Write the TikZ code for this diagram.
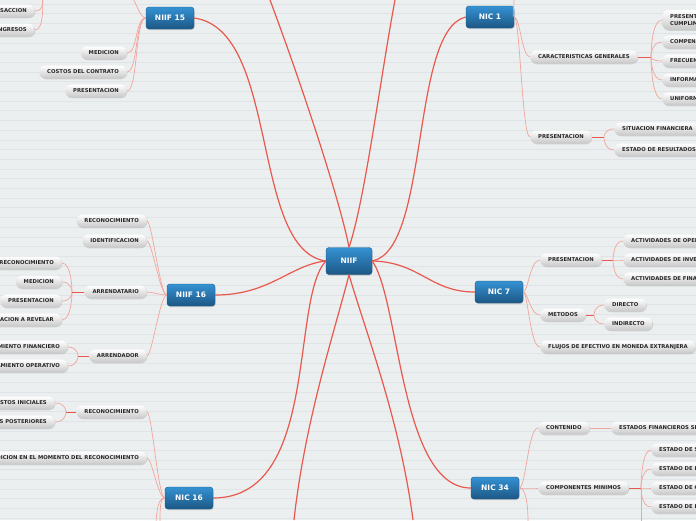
\documentclass[tikz,border=0pt]{standalone}
\usepackage{fontspec}
\setmainfont{DejaVu Sans}
\usetikzlibrary{shadows}
\definecolor{bg}{HTML}{ECEFF0}
\definecolor{rule}{HTML}{E0E4E6}
\definecolor{mainln}{HTML}{E8584C}
\definecolor{subln}{HTML}{F2A59C}
\definecolor{btop}{HTML}{3592D3}
\definecolor{bbot}{HTML}{1C5784}
\tikzset{
 pill/.style={rounded corners=6.5pt, minimum height=13pt, inner xsep=8pt, inner ysep=0pt,
   top color=white, bottom color=black!22, font=\bfseries\fontsize{5.3}{6.3}\selectfont, text=black!85,
   drop shadow={shadow xshift=0.6pt,shadow yshift=-0.8pt,opacity=0.25}},
 topic/.style={rounded corners=3pt, minimum height=22pt, minimum width=48pt, top color=btop, bottom color=bbot,
   draw=bbot, text=white, font=\bfseries\fontsize{7.5}{8}\selectfont,
   drop shadow={shadow xshift=0.6pt,shadow yshift=-1pt,opacity=0.3}},
 mline/.style={draw=mainln, line width=1.2pt},
 sline/.style={draw=subln, line width=0.7pt},
 rln/.style={color=mainln, draw=mainln, line width=1pt}
}
\begin{document}
\begin{tikzpicture}[x=1pt,y=-1pt]
\fill[bg] (0,0) rectangle (696,520);
\clip (0,0) rectangle (696,520);
\foreach \y in {4,13.7,...,520} \draw[rule, line width=0.5pt] (0,\y) -- (696,\y);
% free ends
\coordinate (t1) at (270,0); \coordinate (t2) at (395,0);
\coordinate (b1) at (294,520); \coordinate (b2) at (413,520);
\coordinate (tl) at (43,-2); \coordinate (tn1) at (514,0);
\coordinate (bn16) at (156,522); \coordinate (bn34) at (528,522);
% main
\node[topic, minimum width=46pt, minimum height=27pt] (niif) at (349,261) {NIIF};
\node[topic] (n15) at (170,18) {NIIF 15};
\node[topic] (n1) at (490,17) {NIC 1};
\node[topic] (n16f) at (191,295) {NIIF 16};
\node[topic] (n7) at (499,292) {NIC 7};
\node[topic] (n16) at (189,498) {NIC 16};
\node[topic] (n34) at (495,488) {NIC 34};
\draw[mline] (niif.north) .. controls (340,200) and (300,80) .. (t1);
\draw[mline] (niif.north) .. controls (365,200) and (380,80) .. (t2);
\draw[mline] (niif.south) .. controls (335,330) and (305,420) .. (b1);
\draw[mline] (niif.south) .. controls (365,330) and (400,420) .. (b2);
\draw[mline] (niif.west) .. controls (250,250) and (280,30) .. (n15.east);
\draw[mline] (niif.east) .. controls (430,250) and (410,30) .. (n1.west);
\draw[mline] (niif.west) .. controls (290,265) and (270,295) .. (n16f.east);
\draw[mline] (niif.east) .. controls (420,262) and (430,292) .. (n7.west);
\draw[mline] (niif.west) .. controls (290,300) and (320,498) .. (n16.east);
\draw[mline] (niif.east) .. controls (400,300) and (400,488) .. (n34.west);
% NIIF 15
\node[pill, anchor=east] (m15a) at (127,53) {MEDICION};
\node[pill, anchor=east] (m15b) at (127,72) {COSTOS DEL CONTRATO};
\node[pill, anchor=east] (m15c) at (127,91) {PRESENTACION};
\node[pill, anchor=east] (m15d) at (35,11) {TRANSACCION};
\node[pill, anchor=east] (m15e) at (35,30) {INGRESOS};
\foreach \n/\yy in {m15a/53,m15b/72,m15c/91} \draw[sline] (n15.west) .. controls (135,18) and (138,\yy) .. (\n.east);
\draw[sline] (n15.west) .. controls (140,18) and (135,0) .. (132,-3);
\draw[sline] (m15d.east) .. controls (45,11) and (42,0) .. (tl);
\draw[sline] (m15e.east) .. controls (45,30) and (42,0) .. (tl);
% NIIF 16
\node[pill, anchor=east] (a1) at (147,221) {RECONOCIMIENTO};
\node[pill, anchor=east] (a2) at (147,241) {IDENTIFICACION};
\node[pill, anchor=east] (a3) at (147,292) {ARRENDATARIO};
\node[pill, anchor=east] (a4) at (147,356) {ARRENDADOR};
\foreach \n/\yy in {a1/221,a2/241,a3/292,a4/356} \draw[sline] (n16f.west) .. controls (160,295) and (152,\yy) .. (\n.east);
\node[pill, anchor=east] (a31) at (62,263) {RECONOCIMIENTO};
\node[pill, anchor=east] (a32) at (62,282) {MEDICION};
\node[pill, anchor=east] (a33) at (62,301) {PRESENTACION};
\node[pill, anchor=east] (a34) at (62,320) {INFORMACION A REVELAR};
\foreach \n/\yy in {a31/263,a32/282,a33/301,a34/320} \draw[sline] (72,292) .. controls (72,292) and (72,\yy) .. (\n.east);
\draw[rln] (a3.west) -- (72,292);
\node[pill, anchor=east] (a41) at (68,347) {ARRENDAMIENTO FINANCIERO};
\node[pill, anchor=east] (a42) at (68,366) {ARRENDAMIENTO OPERATIVO};
\foreach \n/\yy in {a41/347,a42/366} \draw[sline] (78,356) .. controls (78,356) and (78,\yy) .. (\n.east);
\draw[rln] (a4.west) -- (78,356);
% NIC 16
\node[pill, anchor=east] (c1) at (147,412) {RECONOCIMIENTO};
\node[pill, anchor=east] (c2) at (147,458) {MEDICION EN EL MOMENTO DEL RECONOCIMIENTO};
\foreach \n/\yy in {c1/412,c2/458} \draw[sline] (n16.west) .. controls (158,498) and (152,\yy) .. (\n.east);
\draw[sline] (n16.west) .. controls (158,498) and (157,510) .. (bn16);
\draw[sline] (n16.west) .. controls (160,498) and (160,510) .. (160,522);
\node[pill, anchor=east] (c11) at (55,403) {COSTOS INICIALES};
\node[pill, anchor=east] (c12) at (55,422) {COSTOS POSTERIORES};
\foreach \n/\yy in {c11/403,c12/422} \draw[sline] (66,412) .. controls (66,412) and (66,\yy) .. (\n.east);
\draw[rln] (c1.west) -- (66,412);
% NIC 1
\draw[sline] (n1.east) .. controls (512,17) and (514,8) .. (tn1);
\node[pill, anchor=west] (d1) at (530,57) {CARACTERISTICAS GENERALES};
\node[pill, anchor=west] (d2) at (530,137) {PRESENTACION};
\foreach \n/\yy in {d1/57,d2/137} \draw[sline] (n1.east) .. controls (520,17) and (522,\yy) .. (\n.west);
\node[pill, anchor=west, align=left, minimum height=20pt] (d11) at (662,20) {PRESENTACION RAZONABLE Y\\CUMPLIMIENTO DE LAS NIIF};
\node[pill, anchor=west] (d12) at (662,42) {COMPENSACION};
\node[pill, anchor=west] (d13) at (662,61) {FRECUENCIA DE LA INFORMACION};
\node[pill, anchor=west] (d14) at (662,80) {INFORMACION COMPARATIVA};
\node[pill, anchor=west] (d15) at (662,99) {UNIFORMIDAD EN LA PRESENTACION};
\draw[rln] (d1.east) -- (651,57);
\foreach \n/\yy in {d11/20,d12/42,d13/61,d14/80,d15/99} \draw[sline] (651,57) .. controls (651,57) and (651,\yy) .. (\n.west);
\node[pill, anchor=west] (d21) at (614,129) {SITUACION FINANCIERA};
\node[pill, anchor=west] (d22) at (614,150) {ESTADO DE RESULTADOS};
\draw[rln] (d2.east) -- (604,137);
\foreach \n/\yy in {d21/129,d22/150} \draw[sline] (604,137) .. controls (604,137) and (604,\yy) .. (\n.west);
% NIC 7
\node[pill, anchor=west] (e1) at (540,260) {PRESENTACION};
\node[pill, anchor=west] (e2) at (540,315) {METODOS};
\node[pill, anchor=west] (e3) at (540,347) {FLUJOS DE EFECTIVO EN MONEDA EXTRANJERA};
\foreach \n/\yy in {e1/260,e2/315,e3/347} \draw[sline] (n7.east) .. controls (528,292) and (530,\yy) .. (\n.west);
\node[pill, anchor=west] (e11) at (623,241) {ACTIVIDADES DE OPERACION};
\node[pill, anchor=west] (e12) at (623,260) {ACTIVIDADES DE INVERSION};
\node[pill, anchor=west] (e13) at (623,279) {ACTIVIDADES DE FINANCIACION};
\draw[rln] (e1.east) -- (613,260);
\foreach \n/\yy in {e11/241,e12/260,e13/279} \draw[sline] (613,260) .. controls (613,260) and (613,\yy) .. (\n.west);
\node[pill, anchor=west] (e21) at (604,305) {DIRECTO};
\node[pill, anchor=west] (e22) at (604,324) {INDIRECTO};
\draw[rln] (e2.east) -- (594,315);
\foreach \n/\yy in {e21/305,e22/324} \draw[sline] (594,315) .. controls (594,315) and (594,\yy) .. (\n.west);
% NIC 34
\node[pill, anchor=west] (f1) at (538,428) {CONTENIDO};
\node[pill, anchor=west] (f2) at (538,488) {COMPONENTES MINIMOS};
\foreach \n/\yy in {f1/428,f2/488} \draw[sline] (n34.east) .. controls (526,488) and (528,\yy) .. (\n.west);
\draw[sline] (n34.east) .. controls (526,488) and (528,505) .. (bn34);
\node[pill, anchor=west] (f11) at (611,428) {ESTADOS FINANCIEROS SEPARADOS};
\draw[sline] (f1.east) -- (f11.west);
\node[pill, anchor=west] (f21) at (651,450) {ESTADO DE SITUACION};
\node[pill, anchor=west] (f22) at (651,469) {ESTADO DE RESULTADOS};
\node[pill, anchor=west] (f23) at (651,488) {ESTADO DE CAMBIOS};
\node[pill, anchor=west] (f24) at (651,507) {ESTADO DE FLUJOS};
\draw[rln] (f2.east) -- (641,488);
\foreach \n/\yy in {f21/450,f22/469,f23/488,f24/507} \draw[sline] (641,488) .. controls (641,488) and (641,\yy) .. (\n.west);
\draw[sline] (641,488) -- (641,522);
\end{tikzpicture}
\end{document}
